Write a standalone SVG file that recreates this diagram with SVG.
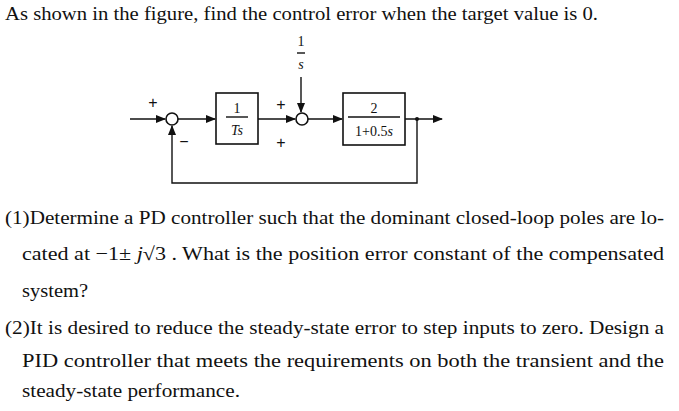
<svg xmlns="http://www.w3.org/2000/svg" width="679" height="411" viewBox="0 0 679 411">
<style>
.t{font-family:"Liberation Serif",serif;font-size:19px;fill:#111}
.d{font-family:"Liberation Serif",serif;font-size:14px;fill:#111;text-anchor:middle}
.p{font-family:"Liberation Sans",sans-serif;font-size:16px;fill:#111;text-anchor:middle}
.l{stroke:#111;stroke-width:1.4;fill:none}
.b{stroke:#111;stroke-width:1.6;fill:#fff}
</style>
<defs><marker id="a" markerWidth="10" markerHeight="8" refX="9" refY="4" orient="auto" markerUnits="userSpaceOnUse"><path d="M0,0L10,4L0,8z" fill="#111"/></marker></defs>
<rect width="679" height="411" fill="#fff"/>
<text class="t" x="5" y="20" textLength="593" lengthAdjust="spacingAndGlyphs">As shown in the figure, find the control error when the target value is 0.</text>
<g id="connectors">
<path class="l" d="M130,119H165" marker-end="url(#a)"/>
<path class="l" d="M178,119H215" marker-end="url(#a)"/>
<path class="l" d="M258,119H295" marker-end="url(#a)"/>
<path class="l" d="M301,77V112" marker-end="url(#a)"/>
<path class="l" d="M308,119H342" marker-end="url(#a)"/>
<path class="l" d="M405,119H442" marker-end="url(#a)"/>
<path class="l" d="M417,119V183H172V126" marker-end="url(#a)"/>
<circle cx="417" cy="119" r="2" fill="#111"/>
</g>
<g id="sum1"><circle class="b" cx="172" cy="119" r="6"/><text class="p" x="153" y="108">+</text><text class="p" x="184" y="147">−</text></g>
<g id="block1"><rect class="b" x="216" y="93" width="42" height="51"/><text class="d" x="237" y="113">1</text><path class="l" d="M226,117H248" stroke-width="1"/><text class="d" x="237" y="135" font-style="italic">Ts</text></g>
<g id="sum2"><circle class="b" cx="302" cy="119" r="6"/><text class="p" x="281" y="110">+</text><text class="p" x="281" y="148">+</text></g>
<g id="dist"><text class="d" x="301" y="46">1</text><path class="l" d="M297,53H305" stroke-width="1"/><text class="d" x="301" y="69" font-style="italic">s</text></g>
<g id="block2"><rect class="b" x="343" y="93" width="62" height="52"/><text class="d" x="374" y="113">2</text><path class="l" d="M348,117H400" stroke-width="1"/><text class="d" x="374" y="136">1+0.5<tspan font-style="italic">s</tspan></text></g>
<text class="t" x="5" y="224" textLength="659" lengthAdjust="spacingAndGlyphs">(1)Determine a PD controller such that the dominant closed-loop poles are lo-</text>
<text class="t" x="22" y="260" textLength="642" lengthAdjust="spacingAndGlyphs">cated at −1± <tspan font-style="italic">j</tspan>√3 . What is the position error constant of the compensated</text>
<text class="t" x="22" y="297" textLength="66" lengthAdjust="spacingAndGlyphs">system?</text>
<text class="t" x="5" y="334" textLength="659" lengthAdjust="spacingAndGlyphs">(2)It is desired to reduce the steady-state error to step inputs to zero. Design a</text>
<text class="t" x="22" y="367" textLength="642" lengthAdjust="spacingAndGlyphs">PID controller that meets the requirements on both the transient and the</text>
<text class="t" x="22" y="397" textLength="218" lengthAdjust="spacingAndGlyphs">steady-state performance.</text>
</svg>
